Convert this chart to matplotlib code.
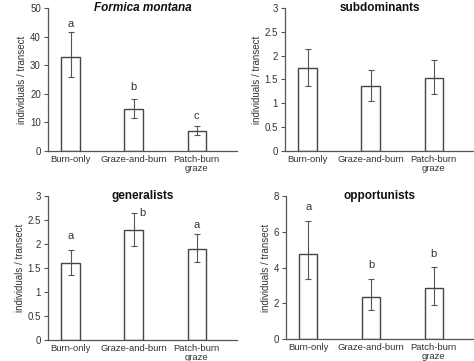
import matplotlib.pyplot as plt

plt.rcParams['font.family'] = ['Liberation Sans', 'DejaVu Sans']

treatments = ['Burn-only', 'Graze-and-burn', 'Patch-burn\ngraze']

# means and error limits (low, high) per group
formica_mean = [33.0, 14.5, 7.0]
formica_low = [26.0, 11.5, 5.5]
formica_high = [41.7, 18.0, 8.7]
formica_letters = ['a', 'b', 'c']
formica_letter_y = [44.5, 22.4, 12.2]

subdom_mean = [1.73, 1.36, 1.53]
subdom_low = [1.37, 1.05, 1.20]
subdom_high = [2.13, 1.70, 1.90]

general_mean = [1.60, 2.29, 1.89]
general_low = [1.35, 1.95, 1.62]
general_high = [1.88, 2.65, 2.21]
general_letters = ['a', 'b', 'a']
general_letter_y = [2.17, 2.65, 2.40]
general_letter_dx = [0, 0.14, 0]

opport_mean = [4.75, 2.37, 2.85]
opport_low = [3.35, 1.60, 1.92]
opport_high = [6.62, 3.35, 4.05]
opport_letters = ['a', 'b', 'b']
opport_letter_y = [7.38, 4.14, 4.75]

fig = plt.figure(figsize=(4.74, 3.61), dpi=100)

panels = [
    ([0.101, 0.582, 0.399, 0.396], 'Formica montana', 'italic', formica_mean, formica_low, formica_high,
     (0, 50), [0, 10, 20, 30, 40, 50], ['0', '10', '20', '30', '40', '50'], formica_letters, formica_letter_y, None),
    ([0.601, 0.582, 0.399, 0.396], 'subdominants', 'normal', subdom_mean, subdom_low, subdom_high,
     (0, 3), [0, 0.5, 1, 1.5, 2, 2.5, 3], ['0', '0.5', '1', '1.5', '2', '2.5', '3'], None, None, None),
    ([0.101, 0.058, 0.399, 0.399], 'generalists', 'normal', general_mean, general_low, general_high,
     (0, 3), [0, 0.5, 1, 1.5, 2, 2.5, 3], ['0', '0.5', '1', '1.5', '2', '2.5', '3'], general_letters, general_letter_y, general_letter_dx),
    ([0.603, 0.061, 0.397, 0.396], 'opportunists', 'normal', opport_mean, opport_low, opport_high,
     (0, 8), [0, 2, 4, 6, 8], ['0', '2', '4', '6', '8'], opport_letters, opport_letter_y, None),
]

axis_col = '#555555'
text_col = '#333333'

for rect, title, style, mean, low, high, ylim, yt, ytl, letters, ly, ldx in panels:
    ax = fig.add_axes(rect)
    x = range(len(treatments))
    err = [[m - l for m, l in zip(mean, low)], [h - m for m, h in zip(mean, high)]]
    ax.bar(x, mean, width=0.29, color='white', edgecolor='#444444', linewidth=1.0)
    ax.errorbar(x, mean, yerr=err, fmt='none', ecolor='#555555', elinewidth=0.8, capsize=2, capthick=0.8)
    ax.set_xlim(-0.36, 2.64)
    ax.set_ylim(*ylim)
    ax.set_yticks(yt)
    ax.set_yticklabels(ytl)
    ax.set_xticks(list(x))
    ax.set_xticklabels(treatments, linespacing=0.95)
    ax.tick_params(axis='x', length=0, labelsize=6.8, colors=text_col, pad=3)
    ax.tick_params(axis='y', length=3, width=0.8, labelsize=7, colors=text_col, pad=2)
    ax.tick_params(axis='y', color=axis_col)
    for s in ['top', 'right']:
        ax.spines[s].set_visible(False)
    for s in ['left', 'bottom']:
        ax.spines[s].set_color(axis_col)
        ax.spines[s].set_linewidth(0.9)
    ax.set_ylabel('individuals / transect', fontsize=7, color=text_col, labelpad=2)
    ax.text(0.5, 1.0, title, transform=ax.transAxes, ha='center', va='center',
            fontsize=8.5, fontweight='bold', style=style, color='#111111')
    if letters:
        for i, (t, y) in enumerate(zip(letters, ly)):
            dx = ldx[i] if ldx else 0
            ax.text(i + dx, y, t, ha='center', va='center', fontsize=8, color=text_col)

fig.savefig('out.png', dpi=100)
